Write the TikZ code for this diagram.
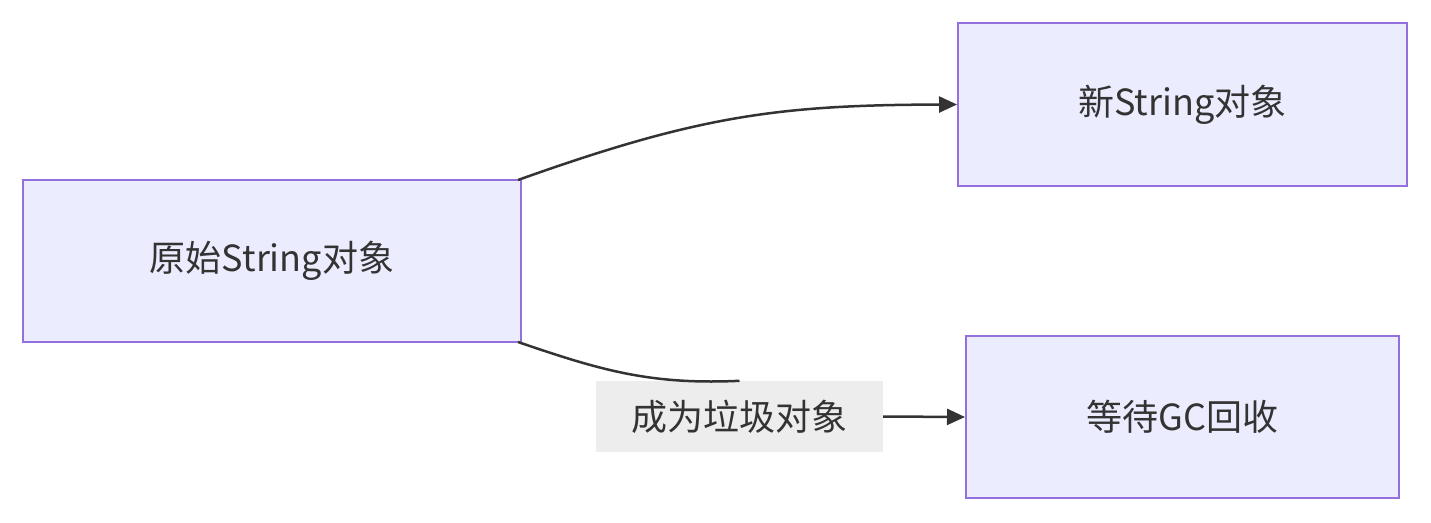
\documentclass[tikz,border=0pt]{standalone}
\usepackage{fontspec}
\setmainfont{Noto Sans CJK SC}
\usetikzlibrary{arrows.meta}
\definecolor{boxfill}{HTML}{ECECFF}
\definecolor{boxline}{HTML}{9370DB}
\definecolor{edge}{HTML}{333333}
\definecolor{lblbg}{HTML}{E8E8E8}
\begin{document}
\begin{tikzpicture}[x=1pt,y=-1pt,
  box/.style={draw=boxline,fill=boxfill,line width=2pt,inner sep=0pt,font=\fontsize{36}{40}\selectfont,text=edge},
  conn/.style={draw=edge,line width=2.5pt,-{Triangle[length=18pt,width=16pt]}},
  lbl/.style={fill=lblbg,fill opacity=0.8,text opacity=1,inner sep=0pt,font=\fontsize{36}{40}\selectfont,text=edge}]
\useasboundingbox (0,0) rectangle (1431,522);
\node[box,minimum width=498pt,minimum height=162pt] (a) at (272,261) {原始String对象};
\node[box,minimum width=449pt,minimum height=163pt] (b) at (1182.5,104.5) {新String对象};
\node[box,minimum width=433pt,minimum height=162pt] (c) at (1182.5,417) {等待GC回收};
\coordinate (a1) at (518,180);
\coordinate (a2) at (518,342);
\draw[conn] (a1) .. controls (700,115) and (780,105) .. (b.west);
\node[lbl,minimum width=287pt,minimum height=71pt] (l) at (739.5,416.5) {成为垃圾对象};
\draw[draw=edge,line width=2.5pt] (a2) .. controls (600,370) and (650,385) .. (l.north);
\draw[conn] (l.east) -- (c.west);
\end{tikzpicture}
\end{document}
